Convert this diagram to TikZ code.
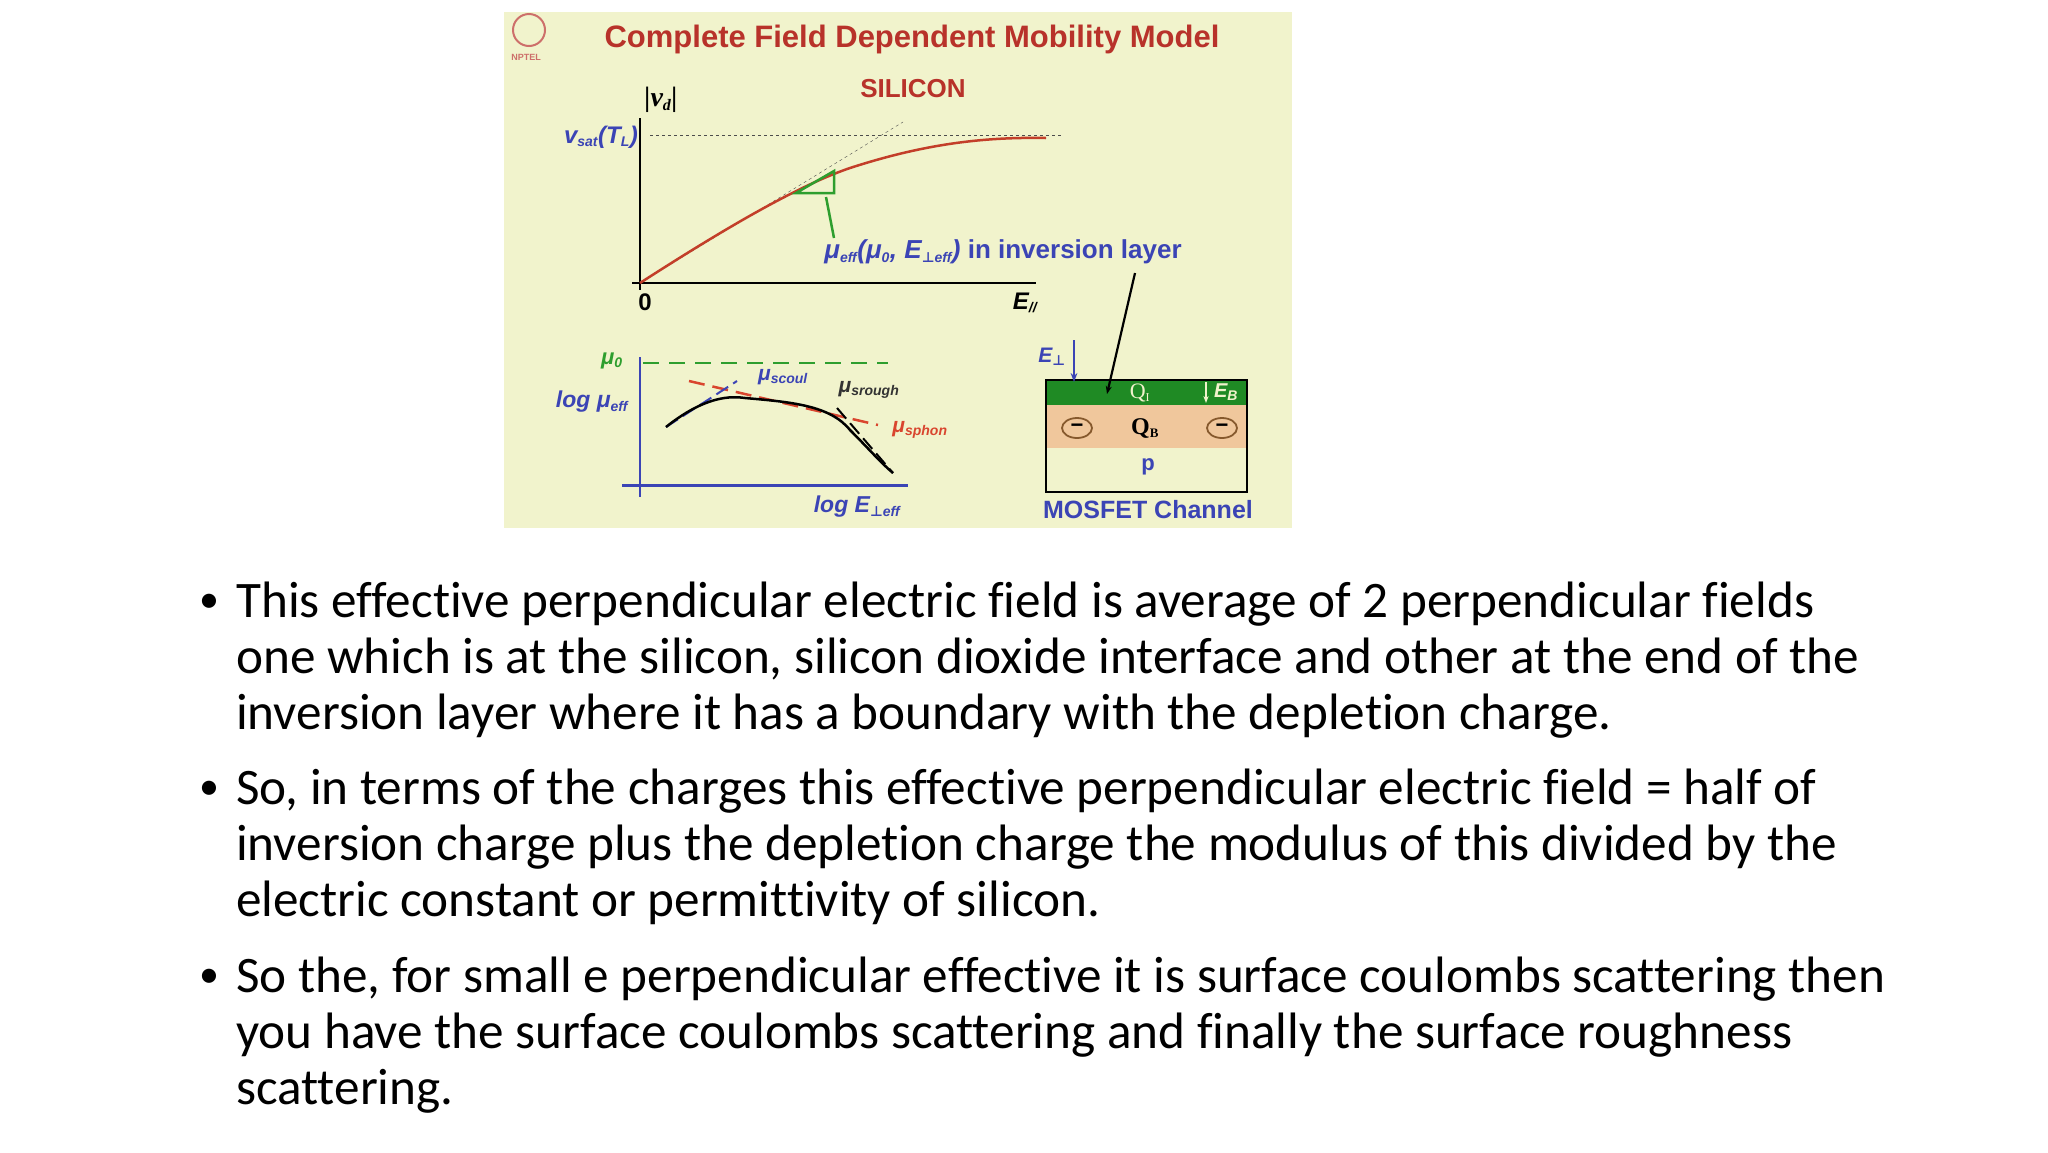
\documentclass[tikz,border=0pt]{standalone}
\usepackage{fontspec}
\setmainfont[Ligatures=NoCommon]{Carlito}
\newfontfamily\arl{Liberation Sans}
\newfontfamily\tms{Liberation Serif}
\newfontfamily\djvfont{DejaVu Sans}
\usetikzlibrary{arrows.meta,shapes.geometric}
\definecolor{panel}{HTML}{F1F3CC}
\definecolor{ttl}{HTML}{B8322A}
\definecolor{blu}{HTML}{3B44B5}
\definecolor{grn}{HTML}{2E9E2E}
\definecolor{band}{HTML}{1F8A24}
\definecolor{org}{HTML}{F0C79C}
\definecolor{redc}{HTML}{D9452E}
\tikzset{
 lbl/.style={font=\arl\bfseries\fontsize{19}{22}\selectfont, inner sep=0pt},
 bl/.style={lbl, text=blu},
 axis/.style={line width=2.5pt},
 bul/.style={anchor=north west, align=left, inner sep=0pt, font=\fontsize{51.2}{56}\selectfont}
}
\newcommand{\sbs}[1]{\textsubscript{\fontsize{14}{14}\selectfont #1}}
\newcommand{\perpx}{{\djvfont\upshape ⊥}}
\begin{document}
\begin{tikzpicture}[x=1pt,y=-1pt]
\useasboundingbox (0,0) rectangle (2048,1152);
\fill[white] (0,0) rectangle (2048,1152);
\fill[panel] (504,12) rectangle (1292,528);
% logo
\draw[ttl!70,line width=2pt] (529,30) circle (16);
\node[text=ttl!70,font=\arl\bfseries\fontsize{9}{9}\selectfont] (np) at (526,57) {NPTEL};
\node[lbl,text=ttl,font=\arl\bfseries\fontsize{31}{34}\selectfont] (t) at (912,39) {Complete Field Dependent Mobility Model};
\node[lbl,text=ttl,font=\arl\bfseries\fontsize{26}{28}\selectfont] (si) at (913,89) {SILICON};
% top plot
\coordinate (o) at (640,283);
\draw[axis] (640,118) -- (640,290);
\draw[axis] (632,283) -- (1036,283);
\draw[dashed,gray!60!black] (650,135) -- (1061,135);
\draw[dashed,gray!60!black] (o) -- (903,122);
\draw[redc!90!black,line width=2.5pt] (o) .. controls (730,225) and (800,185) .. (850,168) .. controls (930,142) and (990,137) .. (1046,138);
\node[inner sep=0pt,font=\tms\bfseries\itshape\fontsize{28}{28}\selectfont] (vd) at (661,100) {|v\textsubscript{\fontsize{16}{16}\selectfont d}|};
\node[bl,anchor=east,font=\arl\bfseries\itshape\fontsize{24}{24}\selectfont] (vs) at (638,137) {v\sbs{sat}(T\sbs{L})};
\node[lbl,font=\arl\bfseries\fontsize{24}{24}\selectfont] (zero) at (645,302) {0};
\node[lbl,font=\arl\bfseries\itshape\fontsize{24}{24}\selectfont] (ep) at (1025,303) {E\sbs{//}};
\draw[grn,line width=2.5pt] (796,193) -- (834,171) -- (834,193) -- cycle;
\coordinate (gp) at (826,197);
\node[bl,font=\arl\bfseries\fontsize{26}{28}\selectfont] (mu) at (1003,252) {\itshape μ\sbs{eff}(μ\sbs{0}, E\sbs{\perpx eff})\upshape{} in inversion layer};
\draw[grn,line width=2.5pt] (gp) -- (834,238);
% bottom plot
\draw[blu,line width=2.5pt] (640,357) -- (640,497);
\draw[blu,line width=3pt] (622,485) -- (908,485);
\draw[grn,line width=2.5pt,dash pattern=on 16pt off 10pt] (643,363) -- (888,363);
\draw[redc,line width=2.5pt,dash pattern=on 16pt off 8pt] (689,381) -- (878,425);
\draw[blu,line width=2pt,dash pattern=on 14pt off 6pt] (666,427) -- (737,381);
\draw[black,line width=2pt,dash pattern=on 14pt off 6pt] (837,408) -- (893,473);
\draw[black,line width=2.5pt] (666,427) .. controls (700,400) and (725,395) .. (745,398) .. controls (790,402) and (830,405) .. (850,430) .. controls (870,450) and (880,462) .. (893,473);
\node[lbl,text=grn,font=\arl\bfseries\itshape\fontsize{22}{22}\selectfont] (m0) at (612,361) {μ\sbs{0}};
\node[bl,font=\arl\bfseries\itshape\fontsize{23}{23}\selectfont] (lm) at (592,402) {log μ\sbs{eff}};
\node[bl,font=\arl\bfseries\itshape\fontsize{21}{21}\selectfont] (sc) at (783,377) {μ\sbs{scoul}};
\node[lbl,text=black!80,font=\arl\bfseries\itshape\fontsize{21}{21}\selectfont] (sr) at (869,390) {μ\sbs{srough}};
\node[lbl,text=redc,font=\arl\bfseries\itshape\fontsize{21}{21}\selectfont] (sp) at (920,430) {μ\sbs{sphon}};
\node[bl,font=\arl\bfseries\itshape\fontsize{23}{23}\selectfont] (le) at (857,507) {log E\sbs{\perpx eff}};
% MOSFET
\fill[band] (1046,380) rectangle (1247,405);
\fill[org] (1046,405) rectangle (1247,448);
\draw[line width=2.5pt] (1046,380) rectangle (1247,492);
\node[text=panel,font=\tms\fontsize{22}{22}\selectfont,inner sep=0pt] (qi) at (1140,393) {Q\textsubscript{\fontsize{12}{12}\selectfont I}};
\node[text=panel,font=\arl\bfseries\itshape\fontsize{20}{20}\selectfont,inner sep=0pt] (eb) at (1226,392) {E\sbs{B}};
\draw[-{Stealth[length=7pt]},panel,line width=1.8pt] (1206,382) -- (1206,403);
\node[font=\tms\bfseries\fontsize{24}{24}\selectfont,inner sep=0pt] (qb) at (1145,428) {Q\textsubscript{\fontsize{13}{13}\selectfont B}};
\foreach \n/\x in {c1/1077,c2/1222}{
 \node[draw=brown!70!black,line width=1.8pt,ellipse,minimum width=30pt,minimum height=20pt,inner sep=0pt,font=\arl\bfseries\fontsize{22}{22}\selectfont] (\n) at (\x,428) {−};
}
\node[bl,font=\arl\bfseries\fontsize{22}{22}\selectfont] (p) at (1148,467) {p};
\node[bl,font=\arl\bfseries\fontsize{25}{25}\selectfont] (mc) at (1148,510) {MOSFET Channel};
\node[bl,font=\arl\bfseries\itshape\fontsize{21}{21}\selectfont] (eperp) at (1052,357) {E\sbs{\perpx}};
\coordinate (ea) at (1074,340);
\coordinate (eb2) at (1074,382);
\draw[-{Stealth[length=9pt]},blu,line width=2pt] (ea) -- (eb2);
\coordinate (la) at (1135,273);
\coordinate (lb) at (1107,394);
\draw[-{Stealth[length=8pt]},line width=2.2pt] (la) -- (lb);
% bullets
\foreach \y in {603,790,978}{\node[font=\fontsize{40}{56}\selectfont,inner sep=0pt] at (209,\y) {•};}
\node[bul] (b1) at (236,582) {This effective perpendicular electric field is average of 2 perpendicular fields\\one which is at the silicon, silicon dioxide interface and other at the end of the\\inversion layer where it has a boundary with the depletion charge.};
\node[bul] (b2) at (236,769) {So, in terms of the charges this effective perpendicular electric field = half of\\inversion charge plus the depletion charge the modulus of this divided by the\\electric constant or permittivity of silicon.};
\node[bul] (b3) at (236,957) {So the, for small e perpendicular effective it is surface coulombs scattering then\\you have the surface coulombs scattering and finally the surface roughness\\scattering.};
\end{tikzpicture}
\end{document}
